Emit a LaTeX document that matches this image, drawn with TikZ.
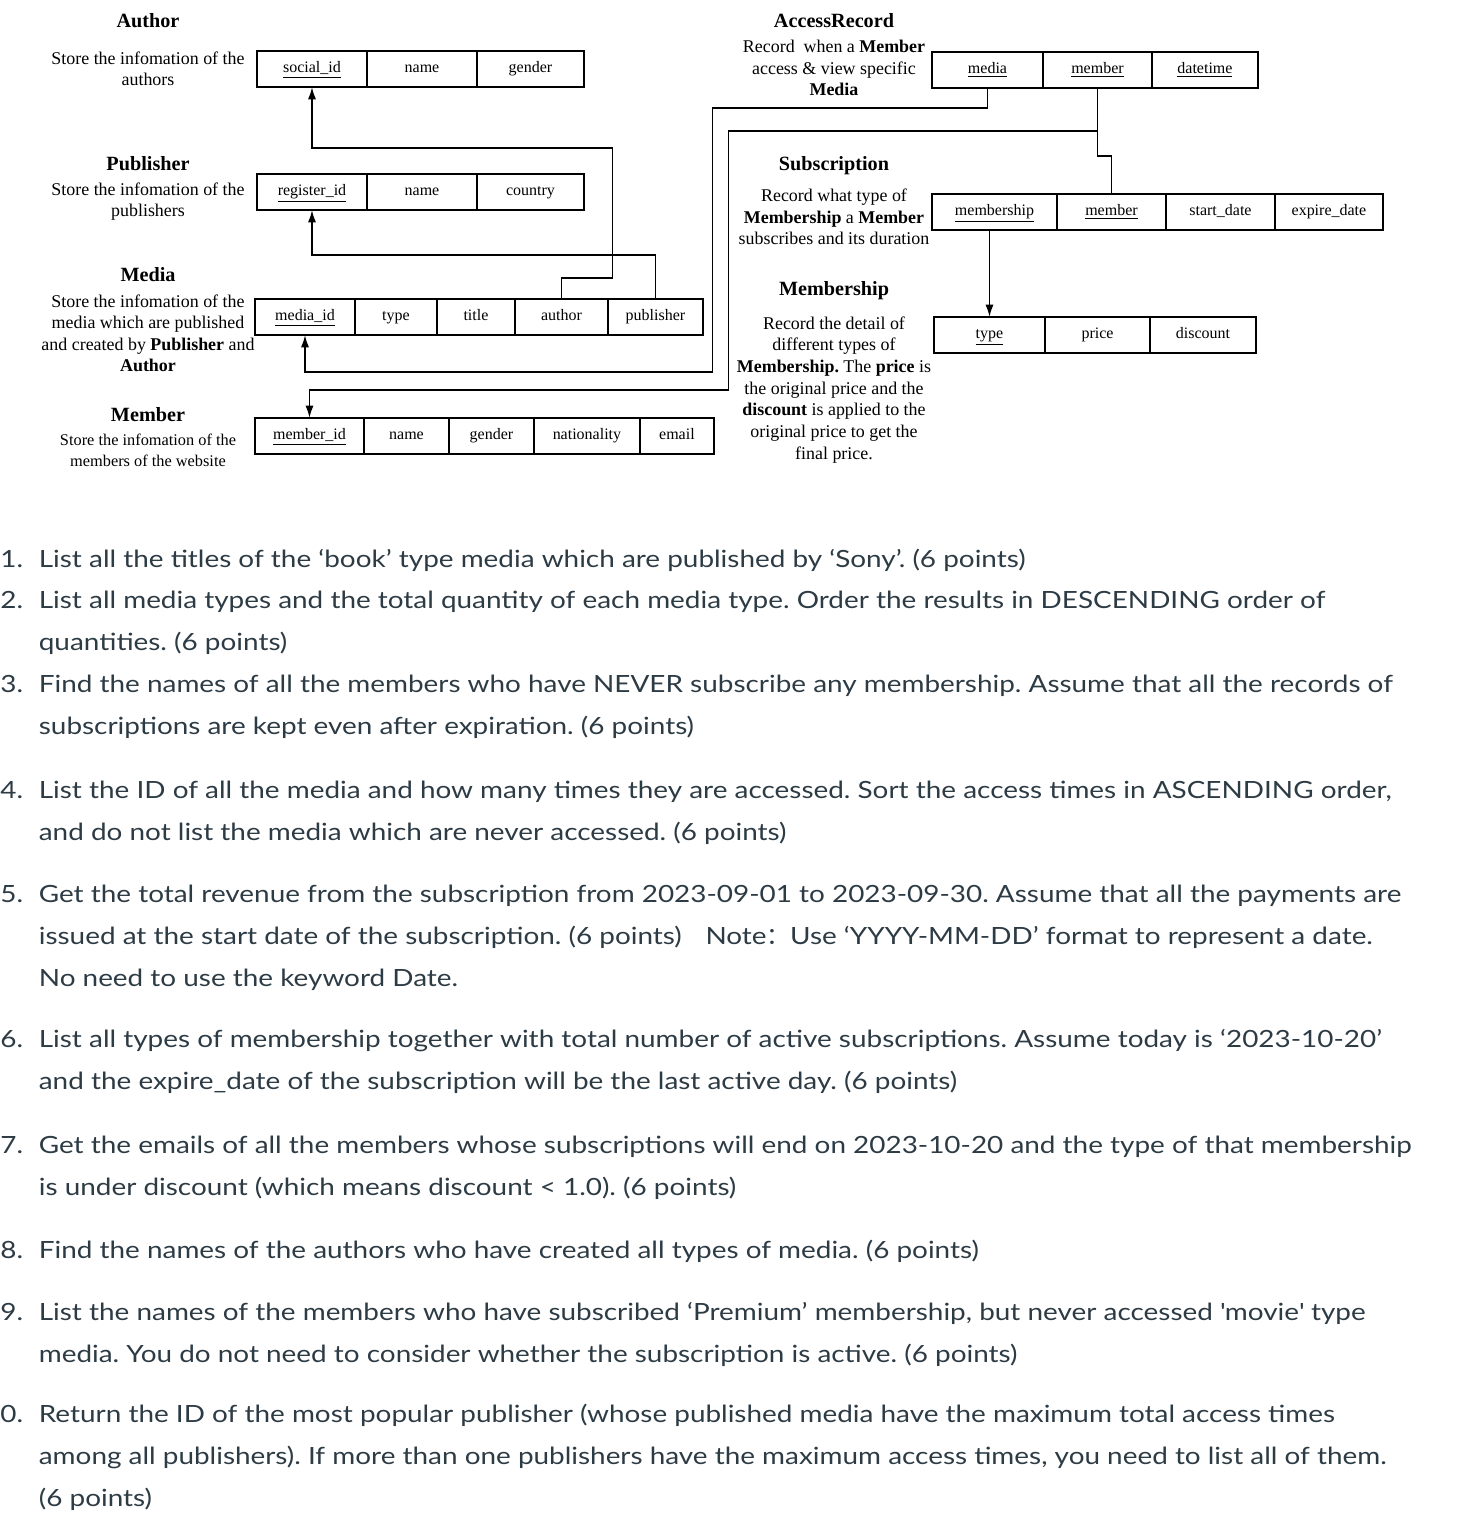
\documentclass[tikz,border=0pt]{standalone}
\usepackage{fontspec}
\setmainfont{Liberation Serif}
\newfontfamily\listfont[FakeStretch=1.176]{Lato}
\newfontfamily\cjk{Noto Sans CJK SC}
\usetikzlibrary{positioning,arrows.meta}
\definecolor{qgray}{HTML}{2D3B45}
\frenchspacing

\begin{document}
\begin{tikzpicture}[x=0.02cm, y=-0.02cm, >={Latex[length=7pt,width=4.6pt]}, line width=1pt]
\tikzset{
	cell/.style={draw, line width=1.1pt, minimum height=0.72cm, inner sep=0pt, outer sep=0pt, text height=6.4pt, text depth=2pt, font=\fontsize{9.1}{11}\selectfont},
	tabname/.style={anchor=base, font=\fontsize{11.5}{13}\selectfont\bfseries},
	desc/.style={anchor=base, align=center, font=\fontsize{10.2}{12.3}\selectfont},
	qnum/.style={anchor=base east, inner sep=0pt, text=qgray, font=\listfont\fontsize{13.5}{23.8}\selectfont},
	qtext/.style={anchor=base west, inner sep=0pt, align=left, text=qgray, font=\listfont\fontsize{13.5}{23.8}\selectfont}
}
\useasboundingbox (0,0) rectangle (1464,1540);

% Left column of tables (multi-line texts sit on their last baseline)
\node[tabname] (t_author) at (148,28) {Author};
\node[desc] (d_author) at (148,86) {Store the infomation of the\\authors};
\node[cell, minimum width=2.2cm, anchor=north west] (au_social) at (257,51) {\underline{social\_id}};
\node[cell, minimum width=2.2cm, right=0pt of au_social] (au_name) {name};
\node[cell, minimum width=2.14cm, right=0pt of au_name] (au_gender) {gender};

\node[tabname] (t_pub) at (148,171) {Publisher};
\node[desc] (d_pub) at (148,217) {Store the infomation of the\\publishers};
\node[cell, minimum width=2.2cm, anchor=north west] (pb_reg) at (257,174) {\underline{register\_id}};
\node[cell, minimum width=2.2cm, right=0pt of pb_reg] (pb_name) {name};
\node[cell, minimum width=2.14cm, right=0pt of pb_name] (pb_country) {country};

\node[tabname] (t_media) at (148,282) {Media};
\node[desc] (d_media) at (148,372) {Store the infomation of the\\media which are published\\and created by \textbf{Publisher} and\\\textbf{Author}};
\node[cell, minimum width=2.0cm, anchor=north west] (md_id) at (255,299) {\underline{media\_id}};
\node[cell, minimum width=1.64cm, right=0pt of md_id] (md_type) {type};
\node[cell, minimum width=1.56cm, right=0pt of md_type] (md_title) {title};
\node[cell, minimum width=1.86cm, right=0pt of md_title] (md_author) {author};
\node[cell, minimum width=1.9cm, right=0pt of md_author] (md_pub) {publisher};

\node[tabname] (t_member) at (148,421) {Member};
\node[desc, font=\fontsize{9.3}{11.4}\selectfont] (d_member) at (148,466) {Store the infomation of the\\members of the website};
\node[cell, minimum width=2.18cm, anchor=north west] (mb_id) at (255,418) {\underline{member\_id}};
\node[cell, minimum width=1.7cm, right=0pt of mb_id] (mb_name) {name};
\node[cell, minimum width=1.7cm, right=0pt of mb_name] (mb_gender) {gender};
\node[cell, minimum width=2.12cm, right=0pt of mb_gender] (mb_nation) {nationality};
\node[cell, minimum width=1.48cm, right=0pt of mb_nation] (mb_email) {email};

% Right column of tables
\node[tabname] (t_access) at (834,28) {AccessRecord};
\node[desc] (d_access) at (834,96) {Record\ \ when a \textbf{Member}\\access \& view specific\\\textbf{Media}};
\node[cell, minimum width=2.22cm, anchor=north west] (ar_media) at (932,52) {\underline{media}};
\node[cell, minimum width=2.18cm, right=0pt of ar_media] (ar_member) {\underline{member}};
\node[cell, minimum width=2.12cm, right=0pt of ar_member] (ar_time) {\underline{datetime}};

\node[tabname] (t_sub) at (834,171) {Subscription};
\node[desc] (d_sub) at (834,245) {Record what type of\\\textbf{Membership} a \textbf{Member}\\subscribes and its duration};
\node[cell, minimum width=2.5cm, anchor=north west] (sb_ship) at (932,194) {\underline{membership}};
\node[cell, minimum width=2.18cm, right=0pt of sb_ship] (sb_member) {\underline{member}};
\node[cell, minimum width=2.18cm, right=0pt of sb_member] (sb_start) {start\_date};
\node[cell, minimum width=2.16cm, right=0pt of sb_start] (sb_expire) {expire\_date};

\node[tabname] (t_ship) at (834,296) {Membership};
\node[desc] (d_ship) at (834,459) {Record the detail of\\different types of\\\textbf{Membership.} The \textbf{price} is\\the original price and the\\\textbf{discount} is applied to the\\original price to get the\\final price.};
\node[cell, minimum width=2.22cm, anchor=north west] (ms_type) at (934,317) {\underline{type}};
\node[cell, minimum width=2.1cm, right=0pt of ms_type] (ms_price) {price};
\node[cell, minimum width=2.12cm, right=0pt of ms_price] (ms_disc) {discount};

% Foreign keys
\draw[->] (md_author.north) -- ++(0,-21) -- ++(51,0) -- ++(0,-130) -| (au_social.south);
\draw[->] (md_pub.north) -- ++(0,-44) -| (pb_reg.south);
\draw[->] (ar_media.south) -- ++(0,20) -- ++(-275,0) -- ++(0,264) -| (md_id.south);
\draw[->] (ar_member.south) -- ++(0,43) -- ++(-369,0) -- ++(0,259) -| (mb_id.north);
\draw (sb_member.north) -- ++(0,-38) -| (ar_member.south);
\draw[->] (sb_ship.south -| ms_type.north) -- (ms_type.north);

% Questions (node placed on its last baseline)
\foreach \n/\yb in {1/567, 2/608, 3/692, 4/798, 5/902, 6/1047, 7/1153, 8/1258, 9/1320, 10/1422}
	\node[qnum] (q\n n) at (24,\yb) {\n.};
\node[qtext] (q1) at (38,567) {List all the titles of the ‘book’ type media which are published by ‘Sony’. (6 points)};
\node[qtext] (q2) at (38,650) {List all media types and the total quantity of each media type. Order the results in DESCENDING order of\\quantities. (6 points)};
\node[qtext] (q3) at (38,734) {Find the names of all the members who have NEVER subscribe any membership. Assume that all the records of\\subscriptions are kept even after expiration. (6 points)};
\node[qtext] (q4) at (38,840) {List the ID of all the media and how many times they are accessed. Sort the access times in ASCENDING order,\\and do not list the media which are never accessed. (6 points)};
\node[qtext] (q5) at (38,986) {Get the total revenue from the subscription from 2023-09-01 to 2023-09-30. Assume that all the payments are\\issued at the start date of the subscription. (6 points)\quad Note{\cjk ：}Use ‘YYYY-MM-DD’ format to represent a date.\\No need to use the keyword Date.};
\node[qtext] (q6) at (38,1089) {List all types of membership together with total number of active subscriptions. Assume today is ‘2023-10-20’\\and the expire\_date of the subscription will be the last active day. (6 points)};
\node[qtext] (q7) at (38,1195) {Get the emails of all the members whose subscriptions will end on 2023-10-20 and the type of that membership\\is under discount (which means discount < 1.0). (6 points)};
\node[qtext] (q8) at (38,1258) {Find the names of the authors who have created all types of media. (6 points)};
\node[qtext] (q9) at (38,1362) {List the names of the members who have subscribed ‘Premium’ membership, but never accessed \textquotesingle movie\textquotesingle\ type\\media. You do not need to consider whether the subscription is active. (6 points)};
\node[qtext] (q10) at (38,1506) {Return the ID of the most popular publisher (whose published media have the maximum total access times\\among all publishers). If more than one publishers have the maximum access times, you need to list all of them.\\(6 points)};

\end{tikzpicture}
\end{document}
